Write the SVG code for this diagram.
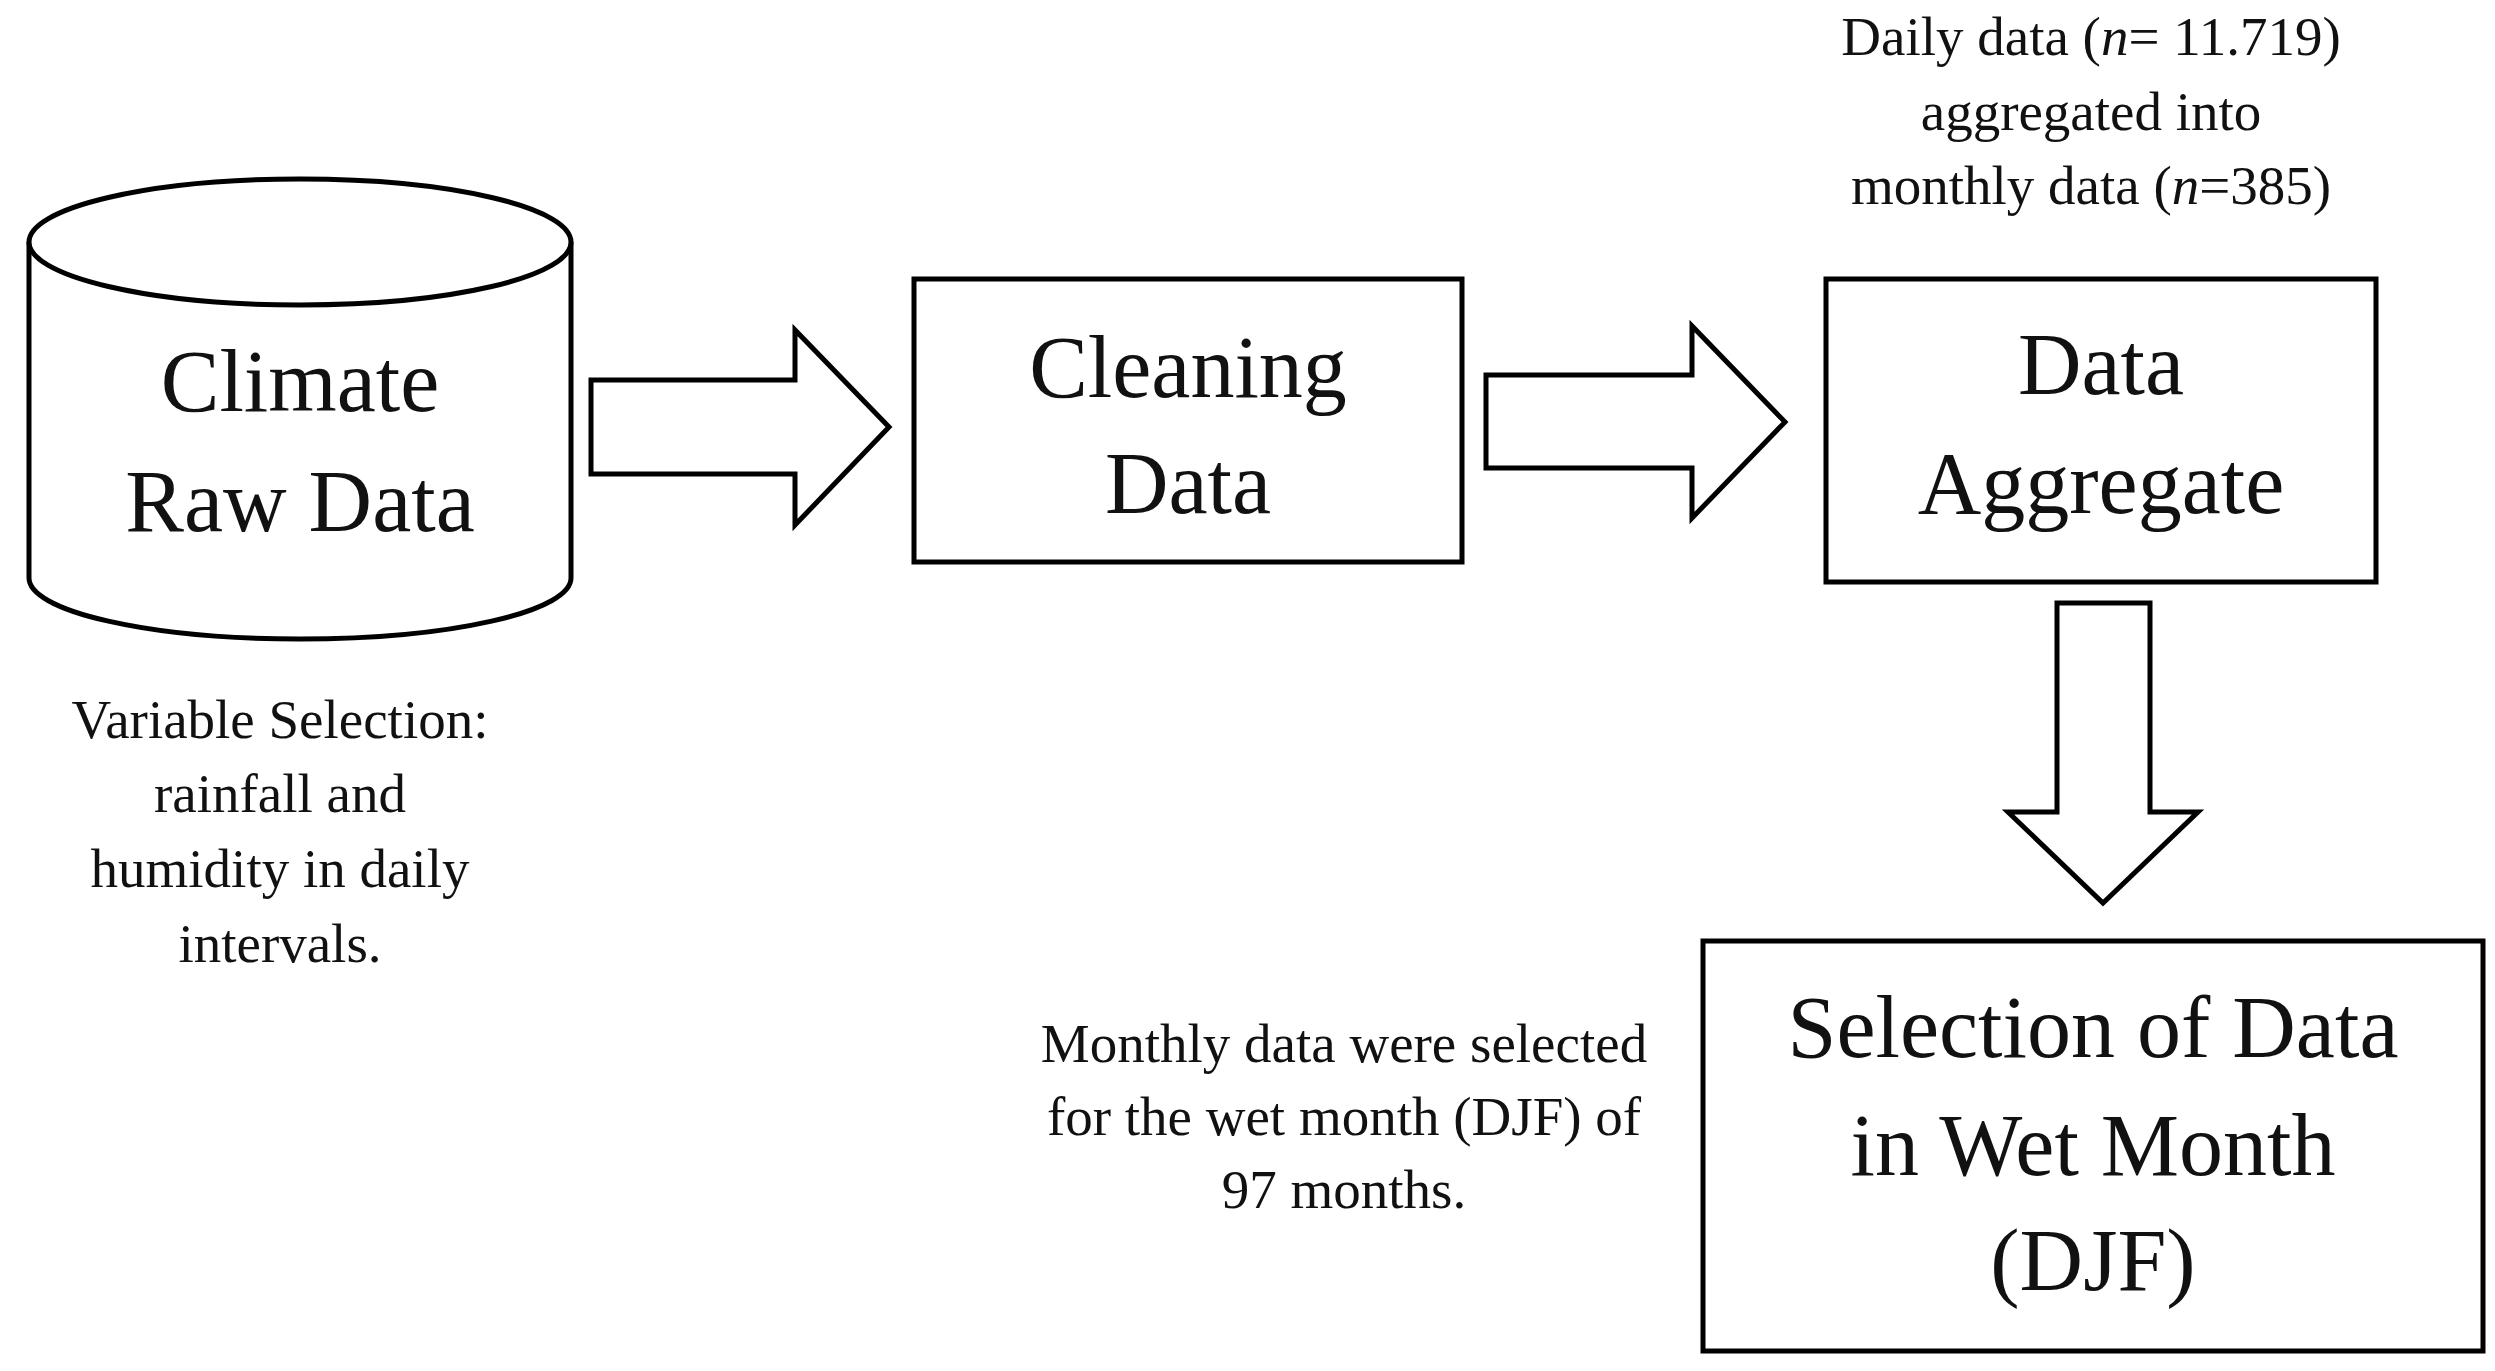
<svg xmlns="http://www.w3.org/2000/svg" width="2495" height="1371" viewBox="0 0 2495 1371">
<style>
.shape{fill:#fff;stroke:#000;stroke-width:5;stroke-linejoin:miter}
.big{font-family:"Liberation Serif","Times New Roman",serif;font-size:88px;fill:#111;text-anchor:middle}
.small{font-family:"Liberation Serif","Times New Roman",serif;font-size:55px;fill:#111;text-anchor:middle}
.it{font-style:italic}
</style>
<rect width="2495" height="1371" fill="#fff"/>
<g id="connectors">
  <polygon class="shape" points="591,380 795,380 795,330 889,427 795,525 795,474 591,474"/>
  <polygon class="shape" points="1486,375 1692,375 1692,326 1785,422 1692,518 1692,468 1486,468"/>
  <polygon class="shape" points="2057,603 2150,603 2150,812 2198,812 2103,903 2008,812 2057,812"/>
</g>
<g id="node-climate">
  <path class="shape" d="M29,242 L29,578 A271,61 0 0 0 571,578 L571,242"/>
  <ellipse class="shape" cx="300" cy="242" rx="271" ry="63"/>
  <text class="big" x="300" y="411">Climate</text>
  <text class="big" x="300" y="531">Raw Data</text>
</g>
<g id="node-cleaning">
  <rect class="shape" x="914" y="279" width="548" height="283"/>
  <text class="big" x="1188" y="397">Cleaning</text>
  <text class="big" x="1188" y="513">Data</text>
</g>
<g id="node-aggregate">
  <rect class="shape" x="1826" y="279" width="550" height="303"/>
  <text class="big" x="2101" y="394">Data</text>
  <text class="big" x="2101" y="513">Aggregate</text>
</g>
<g id="node-selection">
  <rect class="shape" x="1703" y="941" width="780" height="410"/>
  <text class="big" x="2093" y="1057">Selection of Data</text>
  <text class="big" x="2093" y="1175">in Wet Month</text>
  <text class="big" x="2093" y="1290">(DJF)</text>
</g>
<g id="note-variable">
  <text class="small" x="280" y="738">Variable Selection:</text>
  <text class="small" x="280" y="812">rainfall and</text>
  <text class="small" x="280" y="887">humidity in daily</text>
  <text class="small" x="280" y="962">intervals.</text>
</g>
<g id="note-daily">
  <text class="small" x="2091" y="55">Daily data (<tspan class="it">n</tspan>= 11.719)</text>
  <text class="small" x="2091" y="130">aggregated into</text>
  <text class="small" x="2091" y="204">monthly data (<tspan class="it">n</tspan>=385)</text>
</g>
<g id="note-monthly">
  <text class="small" x="1344" y="1062">Monthly data were selected</text>
  <text class="small" x="1344" y="1135">for the wet month (DJF) of</text>
  <text class="small" x="1344" y="1208">97 months.</text>
</g>
</svg>
